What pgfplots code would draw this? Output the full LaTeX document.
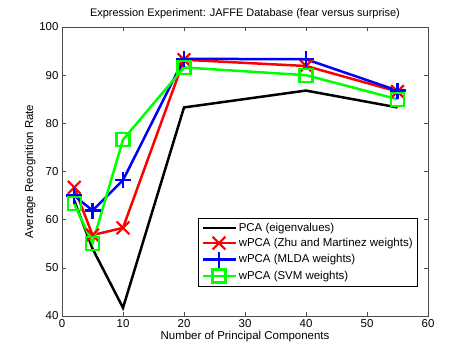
\documentclass[border=0pt]{standalone}
\usepackage{fontspec}
\setmainfont{Liberation Sans}
\usepackage{pgfplots}
\pgfplotsset{compat=1.18}
\usetikzlibrary{calc}
\begin{document}
\begin{tikzpicture}
\begin{axis}[
  scale only axis,
  width=366bp, height=289bp,
  xmin=0, xmax=60, ymin=40, ymax=100,
  xtick={0,10,...,60}, ytick={40,50,...,100},
  tick align=inside,
  major tick length=4bp,
  axis line style={gray!60!black, line width=0.6bp},
  every tick/.style={gray!60!black, line width=0.5bp},
  tick label style={font=\fontsize{11.5}{13}\selectfont},
  /pgf/number format/assume math mode=true,
  title={Expression Experiment: JAFFE Database (fear versus surprise)},
  title style={font=\fontsize{11}{13}\selectfont, yshift=-1bp},
  xlabel={Number of Principal Components},
  ylabel={Average Recognition Rate},
  label style={font=\fontsize{11.5}{13}\selectfont},
  xlabel style={yshift=3bp},
  ylabel style={yshift=-3bp},
  legend style={at={(axis cs:22.3,60.4)}, anchor=north west, font=\fontsize{11.5}{14}\selectfont, draw=black, line width=0.5bp, row sep=1.5bp, inner xsep=3bp, inner ysep=3bp},
  legend cell align=left,
  legend image code/.code={\draw[mark repeat=2,mark phase=2] plot coordinates {(0bp,0bp) (16.5bp,0bp) (33bp,0bp)};},
]
\addplot[black, line width=2.5bp] coordinates {(2,64) (5,54) (10,41.7) (20,83.3) (40,86.8) (55,83.3)};
\addlegendentry{PCA (eigenvalues)}
\addplot[red, line width=2.5bp, mark=x, mark size=9bp, mark options={line width=2.2bp}] coordinates {(2,66.7) (5,56.8) (10,58.3) (20,93.2) (40,91.9) (55,86.6)};
\addlegendentry{wPCA (Zhu and Martinez weights)}
\addplot[blue, line width=2.5bp, mark=+, mark size=8bp, mark options={line width=2.2bp}] coordinates {(2,65.0) (5,61.9) (10,68.2) (20,93.4) (40,93.3) (55,86.8)};
\addlegendentry{wPCA (MLDA weights)}
\addplot[green, line width=2.5bp, mark=square, mark size=6.5bp, mark options={line width=2.2bp}] coordinates {(2,63.3) (5,55.1) (10,76.6) (20,91.6) (40,90.0) (55,85.0)};
\addlegendentry{wPCA (SVM weights)}
\end{axis}
\pgfresetboundingbox
\path[use as bounding box] ($(current axis.south west)+(-62bp,-39bp)$) rectangle ($(current axis.north east)+(46bp,27bp)$);
\end{tikzpicture}
\end{document}
